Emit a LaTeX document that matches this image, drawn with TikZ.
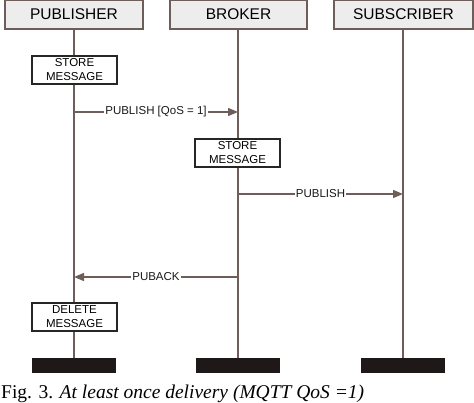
\documentclass[tikz,border=0pt]{standalone}
\usepackage{fontspec}
\setmainfont{Liberation Sans}
\newfontfamily\capfont{Liberation Serif}
\usetikzlibrary{arrows.meta}
\definecolor{lifec}{HTML}{6E5E5A}
\definecolor{headfill}{HTML}{EEEDED}
\definecolor{barc}{HTML}{1E1818}
\tikzset{
  head/.style={draw=lifec, line width=1.4pt, fill=headfill, minimum height=29pt, inner sep=0pt, font=\fontsize{15.5}{17}\selectfont},
  actbox/.style={draw=black!85, line width=1.2pt, fill=white, minimum width=85pt, minimum height=28pt, inner sep=0pt, align=center, font=\fontsize{11.5}{14}\selectfont},
  endbar/.style={fill=barc, minimum width=84pt, minimum height=15pt, inner sep=0pt},
  life/.style={draw=lifec, line width=1.3pt},
  msg/.style={draw=lifec, line width=1.3pt, -{Triangle[length=10pt,width=8pt]}},
  lbl/.style={fill=white, inner sep=1pt, font=\fontsize{11.5}{13}\selectfont, text=black!90}
}
\begin{document}
\begin{tikzpicture}[x=1pt,y=1pt]
\useasboundingbox (0,0) rectangle (474,-403);
% headers
\node[head, minimum width=138pt] (pub) at (74,-14.5) {PUBLISHER};
\node[head, minimum width=137pt] (brk) at (238.5,-14.5) {BROKER};
\node[head, minimum width=139pt] (sub) at (403.5,-14.5) {SUBSCRIBER};
% end bars
\node[endbar] (pubend) at (74,-365.5) {};
\node[endbar] (brkend) at (238,-365.5) {};
\node[endbar] (subend) at (403,-365.5) {};
% lifelines
\draw[life] (pub.south -| pubend.north) -- (pubend.north);
\draw[life] (brk.south -| brkend.north) -- (brkend.north);
\draw[life] (sub.south -| subend.north) -- (subend.north);
% activity boxes
\node[actbox] (store1) at (74.5,-70) {STORE\\MESSAGE};
\node[actbox] (store2) at (237.5,-153) {STORE\\MESSAGE};
\node[actbox] (del) at (74.5,-317) {DELETE\\MESSAGE};
% message coordinates
\coordinate (m1s) at (74,-112);
\coordinate (m1e) at (238,-112);
\coordinate (m2s) at (238,-194);
\coordinate (m2e) at (403,-194);
\coordinate (m3s) at (238,-277);
\coordinate (m3e) at (74,-277);
\draw[msg] (m1s) -- node[lbl] {PUBLISH [QoS = 1]} (m1e);
\draw[msg] (m2s) -- node[lbl] {PUBLISH} (m2e);
\draw[msg] (m3s) -- node[lbl] {PUBACK} (m3e);
% caption
\node[anchor=base west, inner sep=0pt, font=\capfont\fontsize{19.5}{22}\selectfont] (cap) at (1,-399) {Fig. 3. \textit{At least once delivery (MQTT QoS =1)}};
\end{tikzpicture}
\end{document}
